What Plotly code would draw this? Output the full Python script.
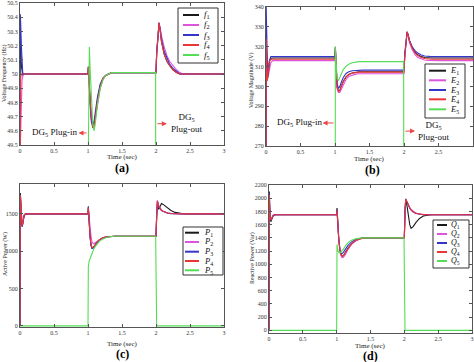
import plotly.graph_objects as go

# ---------------- data ----------------
X_TICKS = [0, 0.5, 1, 1.5, 2, 2.5, 3]
X_TICK_LABELS = ["0", "0.5", "1", "1.5", "2", "2.5", "3"]

# (a) voltage frequency (Hz)
TA = [0, 0.005, 0.01, 0.02, 0.03, 0.04, 0.05, 0.07, 0.1, 0.5,
      0.995, 1.0, 1.005, 1.01, 1.02, 1.03, 1.05, 1.07, 1.09, 1.11,
      1.14, 1.18, 1.22, 1.26, 1.3, 1.35, 1.4, 1.995, 2.0, 2.01,
      2.03, 2.045, 2.06, 2.08, 2.12, 2.16, 2.2, 2.25, 2.3, 2.35,
      2.4, 2.5, 3.0]
F1 = [49.9, 50.3, 50.2, 50.06, 49.99, 49.99, 50.0, 50.0, 50.0, 50.0,
      50.0, 50.0, 50.05, 50.02, 49.92, 49.82, 49.68, 49.62, 49.64, 49.71,
      49.82, 49.92, 49.97, 49.99, 50.0, 50.01, 50.01, 50.01, 50.01, 50.15,
      50.32, 50.36, 50.31, 50.23, 50.14, 50.09, 50.06, 50.03, 50.01, 50.0,
      50.0, 50.0, 50.0]
F2 = [49.4, 49.5, 49.68, 49.86, 49.96, 49.98, 50.0, 50.0, 50.0, 50.0,
      50.0, 50.0, 50.04, 50.01, 49.93, 49.84, 49.7, 49.63, 49.63, 49.69,
      49.79, 49.9, 49.96, 49.99, 50.0, 50.01, 50.01, 50.01, 50.01, 50.13,
      50.3, 50.35, 50.33, 50.27, 50.19, 50.13, 50.09, 50.06, 50.03, 50.01,
      50.0, 50.0, 50.0]
F3 = [50.0, 50.42, 50.36, 50.2, 50.06, 50.01, 50.0, 50.0, 50.0, 50.0,
      50.0, 50.0, 50.05, 50.02, 49.9, 49.79, 49.66, 49.64, 49.67, 49.74,
      49.84, 49.93, 49.97, 49.99, 50.0, 50.01, 50.01, 50.01, 50.01, 50.15,
      50.32, 50.36, 50.32, 50.25, 50.16, 50.11, 50.07, 50.04, 50.02, 50.0,
      50.0, 50.0, 50.0]
F4 = [49.3, 49.9, 49.97, 50.0, 50.0, 50.0, 50.0, 50.0, 50.0, 50.0,
      50.0, 50.0, 50.05, 50.02, 49.91, 49.81, 49.68, 49.62, 49.63, 49.7,
      49.81, 49.91, 49.97, 49.99, 50.0, 50.01, 50.01, 50.01, 50.01, 50.15,
      50.32, 50.36, 50.31, 50.23, 50.14, 50.09, 50.06, 50.03, 50.01, 50.0,
      50.0, 50.0, 50.0]
F5 = [0, 0, 0, 0, 0, 0, 0, 0, 0, 0,
      0, 0, 49.95, 50.1, 50.19, 50.05, 49.78, 49.65, 49.6, 49.66,
      49.79, 49.9, 49.96, 49.99, 50.0, 50.01, 50.01, 50.01, 0, 0,
      0, 0, 0, 0, 0, 0, 0, 0, 0, 0,
      0, 0, 0]

# (b) voltage magnitude (V)
TB = [0, 0.003, 0.01, 0.02, 0.03, 0.04, 0.05, 0.07, 0.1, 0.5,
      0.995, 1.0, 1.005, 1.01, 1.02, 1.03, 1.05, 1.07, 1.09, 1.12,
      1.16, 1.2, 1.25, 1.3, 1.35, 1.4, 1.995, 2.0, 2.01, 2.03,
      2.045, 2.06, 2.08, 2.12, 2.16, 2.2, 2.25, 2.3, 2.35, 2.4,
      2.5, 3.0]
E1 = [0, 325, 316, 303, 306, 311, 313, 314.2, 314.3, 314.3,
      314.3, 314.3, 320, 315, 306, 300, 297.5, 298, 300, 302.5,
      304.8, 306, 306.8, 307.2, 307.4, 307.4, 307.4, 307.4, 315, 325,
      327.5, 326, 323, 319.5, 317.3, 316, 315, 314.6, 314.4, 314.3,
      314.3, 314.3]
E2 = [0, 318, 312, 308, 305.5, 306.5, 309, 312, 313, 313,
      313, 313, 318, 313, 305, 299, 297, 297, 298.5, 301,
      303.5, 305, 305.8, 306.2, 306.4, 306.4, 306.4, 306.4, 314, 324,
      327, 325.5, 322, 318.5, 316, 314.5, 313.7, 313.3, 313.1, 313,
      313, 313]
E3 = [0, 340, 328, 312, 305, 309, 313, 315, 315, 315,
      315, 315, 319, 315, 307, 301.5, 299, 300, 302, 304.5,
      306.5, 307.4, 307.9, 308.1, 308.2, 308.2, 308.2, 308.2, 316, 325.5,
      327.5, 326, 323, 320, 318, 316.8, 315.8, 315.3, 315.1, 315,
      315, 315]
E4 = [0, 324, 314, 303, 306, 310.5, 312.5, 313.6, 313.7, 313.7,
      313.7, 313.7, 319.5, 314.5, 305.5, 299.5, 297.5, 298, 300, 302.5,
      304.8, 306, 306.7, 307, 307.2, 307.2, 307.2, 307.2, 315, 325,
      327.5, 326, 322.8, 319.2, 316.9, 315.6, 314.6, 314.1, 313.8, 313.7,
      313.7, 313.7]
E5 = [0, 0, 0, 0, 0, 0, 0, 0, 0, 0,
      0, 0, 320, 316, 309, 304, 303, 304.5, 306.5, 308.5,
      310.2, 311.2, 311.9, 312.3, 312.5, 312.5, 312.5, 0, 0, 0,
      0, 0, 0, 0, 0, 0, 0, 0, 0, 0,
      0, 0]

# (c) active power (W)
TC = [0, 0.005, 0.01, 0.02, 0.03, 0.04, 0.05, 0.06, 0.08, 0.1,
      0.5, 0.995, 1.0, 1.005, 1.01, 1.02, 1.03, 1.045, 1.06, 1.08,
      1.1, 1.13, 1.17, 1.22, 1.28, 1.35, 1.4, 1.995, 2.0, 2.01,
      2.02, 2.04, 2.06, 2.08, 2.1, 2.13, 2.17, 2.22, 2.28, 2.35,
      2.4, 2.5, 3.0]
P1 = [0, 1780, 1700, 1480, 1330, 1360, 1440, 1480, 1500, 1500,
      1500, 1500, 1500, 1600, 1500, 1350, 1200, 1080, 1040, 1050,
      1080, 1120, 1155, 1180, 1193, 1198, 1200, 1200, 1200, 1450,
      1620, 1560, 1600, 1640, 1630, 1610, 1575, 1545, 1520, 1505,
      1500, 1500, 1500]
P2 = [0, 1700, 1650, 1500, 1400, 1380, 1430, 1480, 1500, 1500,
      1500, 1500, 1500, 1560, 1500, 1400, 1300, 1200, 1120, 1100,
      1110, 1130, 1160, 1182, 1194, 1198, 1200, 1200, 1200, 1500,
      1680, 1610, 1570, 1550, 1540, 1525, 1512, 1505, 1501, 1500,
      1500, 1500, 1500]
P3 = [0, 1760, 1680, 1450, 1330, 1370, 1430, 1470, 1495, 1500,
      1500, 1500, 1500, 1590, 1490, 1340, 1190, 1070, 1035, 1045,
      1075, 1115, 1152, 1178, 1192, 1198, 1200, 1200, 1200, 1480,
      1670, 1600, 1565, 1545, 1535, 1522, 1510, 1503, 1500, 1500,
      1500, 1500, 1500]
P4 = [0, 1750, 1680, 1470, 1340, 1370, 1440, 1480, 1500, 1500,
      1500, 1500, 1500, 1580, 1490, 1350, 1200, 1085, 1050, 1055,
      1085, 1120, 1155, 1180, 1193, 1198, 1200, 1200, 1200, 1480,
      1675, 1605, 1568, 1548, 1538, 1523, 1511, 1504, 1500, 1500,
      1500, 1500, 1500]
P5 = [0, 0, 0, 0, 0, 0, 0, 0, 0, 0,
      0, 0, 0, 800, 860, 880, 900, 940, 975, 1020,
      1055, 1095, 1135, 1165, 1187, 1196, 1200, 1200, 0, 0,
      0, 0, 0, 0, 0, 0, 0, 0, 0, 0,
      0, 0, 0]

# (d) reactive power (Var)
TD = [0, 0.005, 0.01, 0.02, 0.03, 0.04, 0.05, 0.06, 0.08, 0.1,
      0.5, 0.995, 1.0, 1.005, 1.01, 1.02, 1.03, 1.045, 1.06, 1.08,
      1.1, 1.13, 1.17, 1.22, 1.28, 1.35, 1.4, 1.995, 2.0, 2.01,
      2.02, 2.04, 2.06, 2.08, 2.1, 2.13, 2.17, 2.22, 2.28, 2.35,
      2.4, 2.5, 3.0]
Q1 = [0, 2100, 1900, 1660, 1650, 1680, 1710, 1730, 1745, 1750,
      1750, 1750, 1750, 1850, 1720, 1550, 1400, 1250, 1160, 1125,
      1130, 1180, 1250, 1310, 1360, 1390, 1400, 1400, 1400, 1800,
      1990, 1880, 1720, 1600, 1545, 1570, 1630, 1690, 1730, 1748,
      1750, 1750, 1750]
Q2 = [0, 2000, 1850, 1700, 1680, 1700, 1720, 1740, 1750, 1750,
      1750, 1750, 1750, 1800, 1700, 1550, 1400, 1240, 1140, 1100,
      1105, 1150, 1230, 1300, 1355, 1388, 1400, 1400, 1400, 1780,
      1970, 1950, 1900, 1860, 1830, 1800, 1775, 1760, 1752, 1750,
      1750, 1750, 1750]
Q3 = [0, 2080, 1880, 1680, 1660, 1690, 1715, 1735, 1748, 1750,
      1750, 1750, 1750, 1830, 1710, 1540, 1390, 1240, 1170, 1160,
      1180, 1230, 1290, 1340, 1375, 1395, 1400, 1400, 1400, 1790,
      1985, 1940, 1890, 1850, 1820, 1790, 1770, 1757, 1751, 1750,
      1750, 1750, 1750]
Q4 = [0, 2050, 1870, 1690, 1670, 1695, 1718, 1738, 1749, 1750,
      1750, 1750, 1750, 1820, 1710, 1545, 1395, 1245, 1150, 1120,
      1130, 1175, 1245, 1310, 1360, 1390, 1400, 1400, 1400, 1790,
      1985, 1945, 1895, 1855, 1825, 1795, 1772, 1758, 1751, 1750,
      1750, 1750, 1750]
Q5 = [0, 0, 0, 0, 0, 0, 0, 0, 0, 0,
      0, 0, 0, 1300, 1250, 1200, 1180, 1170, 1180, 1200,
      1230, 1280, 1330, 1365, 1385, 1396, 1400, 1400, 0, 0,
      0, 0, 0, 0, 0, 0, 0, 0, 0, 0,
      0, 0, 0]

COLORS = ["#1a1a1a", "#dd55dd", "#3535c8", "#ee3535", "#55dd55"]
SERIF = "Liberation Serif"
W, H = 474, 362


def px(x):
    return x / W


def py(y):
    return 1 - y / H


fig = go.Figure()

panels = [
    ("x", "y", TA, [F1, F2, F3, F4, F5], "f"),
    ("x2", "y2", TB, [E1, E2, E3, E4, E5], "E"),
    ("x3", "y3", TC, [P1, P2, P3, P4, P5], "P"),
    ("x4", "y4", TD, [Q1, Q2, Q3, Q4, Q5], "Q"),
]
for xa, ya, t, series, sym in panels:
    for i, vals in enumerate(series):
        fig.add_trace(go.Scatter(
            x=t, y=vals, xaxis=xa, yaxis=ya, mode="lines",
            line=dict(color=COLORS[i], width=1.1),
            name=f"{sym}{i+1}", showlegend=False, hoverinfo="skip"))

axis_style = dict(showline=True, linecolor="#555", linewidth=1, mirror="ticks",
                  ticks="inside", ticklen=3, tickcolor="#555",
                  tickfont=dict(family=SERIF, size=6, color="#333"),
                  showgrid=False, zeroline=False, automargin=False)

def xax(domain):
    return dict(axis_style, domain=domain, range=[0, 3],
                tickvals=X_TICKS, ticktext=X_TICK_LABELS)

doms = {
    "a": ([px(20), px(224)], [py(145), py(3)]),
    "b": ([px(266), px(473)], [py(146), py(7)]),
    "c": ([px(20), px(224)], [py(327), py(184)]),
    "d": ([px(269), px(472)], [py(333), py(185)]),
}

ya_vals = [round(49.5 + 0.1 * k, 1) for k in range(11)]
fig.update_layout(
    xaxis=dict(xax(doms["a"][0]), anchor="y"),
    yaxis=dict(axis_style, domain=doms["a"][1], range=[49.5, 50.5],
               tickvals=ya_vals, ticktext=[("%g" % v) for v in ya_vals], anchor="x"),
    xaxis2=dict(xax(doms["b"][0]), anchor="y2"),
    yaxis2=dict(axis_style, domain=doms["b"][1], range=[270, 340], dtick=10, anchor="x2"),
    xaxis3=dict(xax(doms["c"][0]), anchor="y3"),
    yaxis3=dict(axis_style, domain=doms["c"][1], range=[-15, 1900],
                tickvals=[0, 500, 1000, 1500], anchor="x3"),
    xaxis4=dict(xax(doms["d"][0]), anchor="y4"),
    yaxis4=dict(axis_style, domain=doms["d"][1], range=[-40, 2200],
                tickvals=list(range(0, 2201, 200)), anchor="x4"),
)

annotations = []
shapes = []

# axis titles and panel labels
def txt(x, y, text, size, angle=0, bold=False, color="#222"):
    annotations.append(dict(x=px(x), y=py(y), xref="paper", yref="paper",
                            text=f"<b>{text}</b>" if bold else text,
                            showarrow=False, textangle=angle,
                            font=dict(family=SERIF, size=size, color=color),
                            xanchor="center", yanchor="middle"))

for cx, cy in [(122, 157), (369, 158.5), (122, 343.5), (370, 345.5)]:
    txt(cx, cy, "Time (sec)", 7)
txt(4, 73, "Voltage Frequency (Hz)", 6, angle=-90)
txt(251, 80, "Voltage Magnitude (V)", 6, angle=-90)
txt(5, 254, "Active Power (W)", 6, angle=-90)
txt(252, 258, "Reactive Power (Var)", 6, angle=-90)
txt(122, 168, "(a)", 12, bold=True, color="#000")
txt(372, 170, "(b)", 12, bold=True, color="#000")
txt(122, 354, "(c)", 12, bold=True, color="#000")
txt(370, 356, "(d)", 12, bold=True, color="#000")

# plug-in / plug-out annotations
def arrow(xr, yr, tip_x, tail_x, yv):
    annotations.append(dict(x=tip_x, y=yv, ax=tail_x, ay=yv, xref=xr, yref=yr,
                            axref=xr, ayref=yr, text="", showarrow=True,
                            arrowhead=2, arrowsize=1, arrowwidth=1,
                            arrowcolor="#ee4444"))

def dtxt(xr, yr, xv, yv, text, size=9):
    annotations.append(dict(x=xv, y=yv, xref=xr, yref=yr, text=text,
                            showarrow=False,
                            font=dict(family=SERIF, size=size, color="#111"),
                            xanchor="center", yanchor="middle"))

arrow("x", "y", 0.86, 1.0, 49.585)
dtxt("x", "y", 0.51, 49.585, "DG<sub>5</sub> Plug-in")
arrow("x", "y", 2.16, 2.0, 49.65)
dtxt("x", "y", 2.46, 49.655, "DG<sub>5</sub><br>Plug-out")
arrow("x2", "y2", 0.82, 1.0, 281.6)
dtxt("x2", "y2", 0.49, 281.6, "DG<sub>5</sub> Plug-in")
arrow("x2", "y2", 2.16, 2.0, 277.5)
dtxt("x2", "y2", 2.44, 277.5, "DG<sub>5</sub><br>Plug-out")

# legends
def legend(box, rows, lx0, lx1, tx, sym, size, lw=2):
    x0, y0, x1, y1 = box
    shapes.append(dict(type="rect", xref="paper", yref="paper",
                       x0=px(x0), x1=px(x1), y0=py(y1), y1=py(y0),
                       line=dict(color="#333", width=1), fillcolor="white",
                       layer="above"))
    for i, ry in enumerate(rows):
        shapes.append(dict(type="line", xref="paper", yref="paper",
                           x0=px(lx0), x1=px(lx1), y0=py(ry), y1=py(ry),
                           line=dict(color=COLORS[i], width=lw), layer="above"))
        annotations.append(dict(x=px(tx), y=py(ry), xref="paper", yref="paper",
                                text=f"<i>{sym}</i><sub>{i+1}</sub>",
                                showarrow=False, xanchor="left", yanchor="middle",
                                font=dict(family=SERIF, size=size, color="#111")))

legend((178, 8, 218, 63), [15, 25, 35, 45, 55], 183, 199, 202, "f", 9)
legend((425, 64, 465, 118), [70.7, 80.3, 90, 99.3, 109.3], 429, 446, 448, "E", 8.5)
legend((183, 227, 223, 275), [232.7, 242, 251.7, 261, 270.3], 185, 199, 202, "P", 8.5)
legend((433, 220, 469, 268), [225, 234, 243, 252, 261], 437, 447, 449, "Q", 8)

fig.update_layout(
    width=W, height=H, margin=dict(l=0, r=0, t=0, b=0),
    paper_bgcolor="white", plot_bgcolor="white", showlegend=False,
    annotations=annotations, shapes=shapes,
)

fig.write_html("out.html", config={"displayModeBar": False},
               post_script="document.body.style.margin='0';document.body.style.overflow='hidden';")
